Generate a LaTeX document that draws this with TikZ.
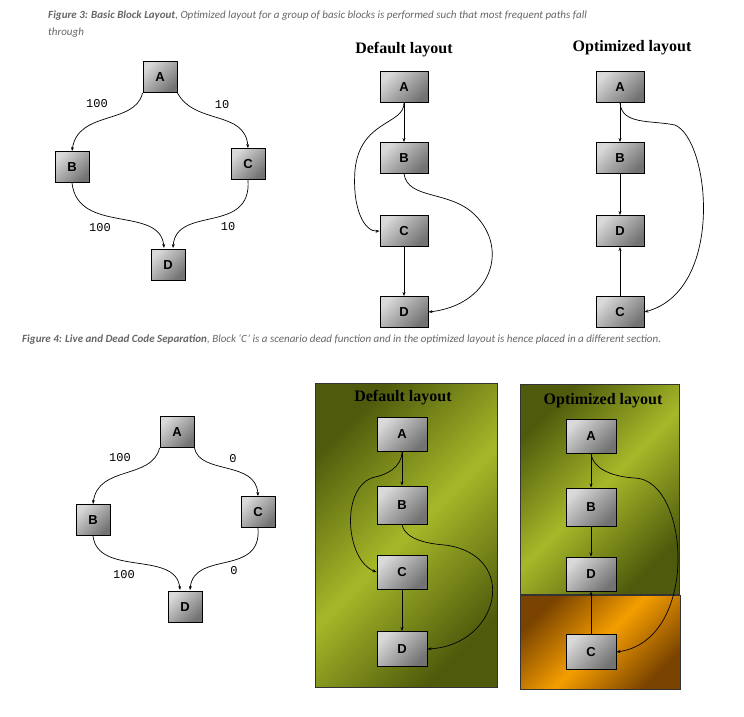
\documentclass[tikz,border=0pt]{standalone}
\usepackage{fontspec}
\setmainfont{Liberation Serif}
\newfontfamily\capfont{Carlito}
\newfontfamily\nodefont{Liberation Sans}
\newfontfamily\numfont{Liberation Mono}
\usetikzlibrary{arrows.meta}
\definecolor{gbright}{HTML}{A6B829}
\definecolor{gdark}{HTML}{4F5A0C}
\definecolor{obright}{HTML}{F59E00}
\definecolor{odark}{HTML}{7A4300}
\begin{document}
\begin{tikzpicture}[x=1pt,y=-1pt,
  blk/.style={draw=black,line width=0.9pt,minimum width=#1,minimum height=31pt,inner sep=0pt,
    left color=gray!30,right color=gray!90!black,shading angle=45,
    font=\nodefont\bfseries\fontsize{13}{13}\selectfont},
  blk/.default=34pt,
  wblk/.style={blk=48pt},
  edge/.style={-{Stealth[length=4pt,width=3pt]},line width=0.7pt},
  num/.style={font=\numfont\fontsize{12}{12}\selectfont},
  ttl/.style={font=\bfseries\fontsize{16}{16}\selectfont},
  captext/.style={font=\capfont\itshape\fontsize{11}{12}\selectfont,text=gray!80!black,anchor=west,inner sep=0pt},
  grn/.style={draw=black!80,line width=0.8pt,left color=gdark,right color=gdark,middle color=gbright,shading angle=45},
  org/.style={draw=black!80,line width=0.8pt,left color=odark,right color=odark,middle color=obright,shading angle=45}]
\useasboundingbox (0,0) rectangle (744,716);
% captions
\node[captext] (c1) at (48,16) {{\bfseries Figure 3: Basic Block Layout}, Optimized layout for a group of basic blocks is performed such that most frequent paths fall};
\node[captext] (c1b) at (48,33) {through};
\node[captext] (c2) at (22,339) {{\bfseries Figure 4: Live and Dead Code Separation}, Block ‘C’ is a scenario dead function and in the optimized layout is hence placed in a different section.};
% fig 3 left
\node[blk] (a1) at (160,77) {A};
\node[blk] (b1) at (72,167) {B};
\node[blk] (c1n) at (248,164) {C};
\node[blk] (d1) at (168,265) {D};
\draw[edge] (a1.south west) .. controls (135,125) and (78,110) .. (b1.north);
\draw[edge] (a1.south east) .. controls (195,125) and (245,110) .. (c1n.north);
\draw[edge] (b1.south) .. controls (78,235) and (160,205) .. (164,248);
\draw[edge] (c1n.south) .. controls (252,235) and (176,205) .. (173,248);
\node[num] (l1) at (97,104) {100};
\node[num] (l2) at (222,105) {10};
\node[num] (l3) at (100,228) {100};
\node[num] (l4) at (228,227) {10};
% fig 3 default
\node[ttl] (t1) at (404,50) {Default layout};
\node[wblk] (a2) at (404,87) {A};
\node[wblk] (b2) at (404,158) {B};
\node[wblk] (c2n) at (404,231) {C};
\node[wblk] (d2) at (404,312) {D};
\draw[edge] (a2) -- (b2);
\draw[edge] (c2n) -- (d2);
\draw[edge] (a2.south) .. controls (404,125) and (360,120) .. (355,170) .. controls (352,210) and (365,232) .. (c2n.west);
\draw[edge] (b2.south) .. controls (408,200) and (450,190) .. (475,215) .. controls (510,250) and (490,305) .. (d2.east);
\node[ttl] (t2) at (632,48) {Optimized layout};
\node[wblk] (a3) at (620,87) {A};
\node[wblk] (b3) at (620,158) {B};
\node[wblk] (d3) at (620,231) {D};
\node[wblk] (c3) at (620,312) {C};
\draw[edge] (a3) -- (b3);
\draw[edge] (b3) -- (d3);
\draw[edge] (c3) -- (d3);
\draw[edge] (a3.south) .. controls (622,125) and (650,120) .. (675,125) .. controls (710,140) and (725,290) .. (c3.east);
% fig 4 left
\node[blk] (a4) at (177,432) {A};
\node[blk] (b4) at (93,520) {B};
\node[blk] (c4) at (258,512) {C};
\node[blk] (d4) at (185,607) {D};
\draw[edge] (a4.south west) .. controls (152,480) and (98,465) .. (b4.north);
\draw[edge] (a4.south east) .. controls (200,475) and (256,460) .. (c4.north);
\draw[edge] (b4.south) .. controls (98,577) and (176,550) .. (180,590);
\draw[edge] (c4.south) .. controls (262,577) and (194,550) .. (190,590);
\node[num] (l5) at (120,458) {100};
\node[num] (l6) at (233,459) {0};
\node[num] (l7) at (124,575) {100};
\node[num] (l8) at (234,571) {0};
% fig 4 default
\path[grn] (315,383) rectangle (497,687);
\node[ttl] (t3) at (403,398) {Default layout};
\node[blk=50pt,minimum height=34pt] (a5) at (402,434) {A};
\node[blk=50pt,minimum height=38pt] (b5) at (402,505) {B};
\node[blk=50pt,minimum height=34pt] (c5) at (402,572) {C};
\node[blk=50pt,minimum height=35pt] (d5) at (402,649) {D};
\draw[edge] (a5) -- (b5);
\draw[edge] (c5) -- (d5);
\draw[edge] (a5.south) .. controls (402,468) and (385,475) .. (375,477) .. controls (340,485) and (345,560) .. (c5.west);
\draw[edge] (b5.south) .. controls (405,540) and (430,544) .. (445,545) .. controls (520,555) and (500,645) .. (d5.east);
% fig 4 optimized
\path[grn] (520,384) rectangle (679,594);
\path[org] (520,595) rectangle (680,689);
\node[ttl] (t4) at (603,401) {Optimized layout};
\node[blk=50pt,minimum height=34pt] (a6) at (591,436) {A};
\node[blk=50pt,minimum height=38pt] (b6) at (591,507) {B};
\node[blk=50pt,minimum height=34pt] (d6) at (591,574) {D};
\node[blk=50pt,minimum height=35pt] (c6) at (591,652) {C};
\draw[edge] (a6) -- (b6);
\draw[edge] (b6) -- (d6);
\draw[edge] (c6) -- (d6);
\draw[edge] (a6.south) .. controls (593,470) and (615,477) .. (635,478) .. controls (690,480) and (700,640) .. (c6.east);
\end{tikzpicture}
\end{document}
